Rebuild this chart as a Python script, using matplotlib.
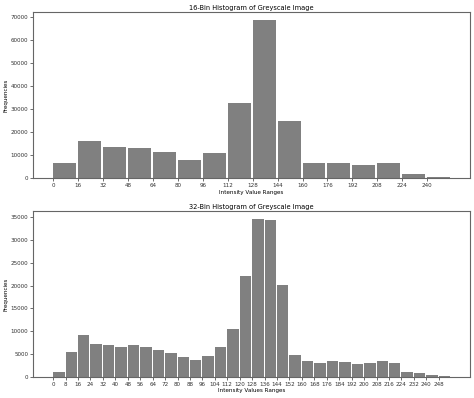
import numpy as np
import matplotlib
matplotlib.use("Agg")
import matplotlib.pyplot as plt

# frecuencias (16 bins y 32 bins)
bins16 = np.arange(0, 256, 16)
freq16 = [6550, 16200, 13500, 13300, 11300, 8100, 11000, 32700,
          68700, 24800, 6500, 6700, 5800, 6500, 1900, 600]

bins32 = np.arange(0, 256, 8)
freq32 = [1100, 5500, 9100, 7300, 6900, 6500, 6900, 6600,
          6000, 5300, 4400, 3700, 4500, 6600, 10600, 22100,
          34500, 34350, 20200, 4800, 3400, 3060, 3400, 3200,
          2840, 3000, 3570, 3000, 1160, 800, 440, 200]

titles = ["16-Bin Histogram of Greyscale Image", "32-Bin Histogram of Greyscale Image"]
xlabels = ["Intensity Value Ranges", "Intensity Values Ranges"]

plt.rcParams['font.size'] = 4.1
plt.rcParams['axes.edgecolor'] = '#666666'

fig = plt.figure(figsize=(4.74, 3.98), dpi=100)
ax1 = fig.add_axes([0.0703, 0.552, 0.9213, 0.417])
ax2 = fig.add_axes([0.0703, 0.0528, 0.9213, 0.416])

for ax, edges, freq, w, title, xl in [(ax1, bins16, freq16, 16, titles[0], xlabels[0]),
                                      (ax2, bins32, freq32, 8, titles[1], xlabels[1])]:
    ax.bar(edges, freq, width=0.92 * w, align='edge', color='grey')
    ax.set_xticks(edges)
    ax.set_title(title, fontsize=4.8, pad=2)
    ax.set_xlabel(xl, labelpad=1)
    ax.set_ylabel("Frequencies", labelpad=2)
    ax.tick_params(length=2, width=0.5, pad=1.5, colors='#333333')
    for s in ax.spines.values():
        s.set_linewidth(0.8)

fig.savefig("out.png", dpi=100)
